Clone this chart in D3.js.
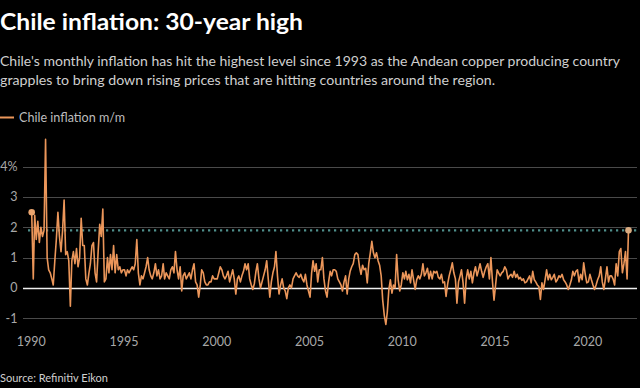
<!DOCTYPE html>
<html>
<head>
<meta charset="utf-8">
<style>
body { margin: 0; background: #000; }
svg { display: block; font-family: "Source Sans Pro", Lato, "Noto Sans", sans-serif; }
.grid line { stroke: #4a4a4a; stroke-width: 1; shape-rendering: crispEdges; }
.tick-label { fill: #a8a8a8; font-size: 12.5px; }
</style>
</head>
<body>
<script src="https://d3js.org/d3.v7.min.js"></script>
<script>

// monthly CPI change in %, Jan 1990 .. Mar 2022
var startYear = 1990;
var inflation = [
  2.5, 0.3, 2.4, 1.6, 2.2, 1.5, 2.0, 1.7, 1.9, 4.9, 1.0, 0.6,      // 1990
  0.5, 0.3, 0.1, 0.9, 1.6, 2.5, 1.7, 1.2, 1.9, 2.9, 1.1, 1.2,      // 1991
  0.9, -0.6, 0.9, 1.2, 0.8, 1.3, 0.7, 1.0, 2.3, 1.4, 1.4, 0.3,     // 1992
  0.1, 0.5, 0.8, 1.4, 1.5, 0.5, 0.2, 1.2, 2.1, 1.7, 2.6, 0.2,      // 1993
  0.3, 1.0, 0.5, 1.1, 0.6, 1.4, 0.5, 1.1, 0.6, 0.7, 0.5, 0.6,      // 1994
  0.6, 0.4, 0.6, 0.5, 0.6, 0.7, 0.6, 0.8, 1.6, 0.5, 0.1, 0.4,      // 1995
  0.3, 0.5, 0.7, 1.0, 0.6, 0.4, 0.3, 0.5, 0.8, 0.4, 0.6, 0.3,      // 1996
  0.4, 0.8, 0.3, 0.5, 0.4, 0.3, 0.6, 0.7, 0.5, 1.2, 0.6, 0.3,      // 1997
  0.7, -0.1, 0.4, 0.5, 0.3, 0.4, 0.5, 0.3, 0.6, 0.8, 0.2, 0.1,     // 1998
  -0.3, 0.1, 0.6, 0.5, 0.2, 0.1, 0.1, 0.2, 0.2, 0.4, 0.3, 0.3,     // 1999
  0.3, 0.5, 0.7, 0.6, 0.4, 0.3, 0.4, 0.55, 0.2, 0.4, 0.6, 0.3,     // 2000
  -0.2, 0.3, 0.4, 0.2, 0.4, 0.55, 0.8, 0.6, 0.8, 0.3, 0.1, -0.05,  // 2001
  0.15, 0.55, 0.8, 0.3, 0.0, 0.2, 0.4, 0.6, 0.9, 0.3, -0.3, 0.2,   // 2002
  0.5, 0.7, 1.2, 0.4, -0.2, 0.1, 0.3, 0.0, -0.1, -0.35, 0.0, 0.1,  // 2003
  0.0, 0.3, 0.4, 0.5, 0.4, 0.35, 0.45, 0.3, 0.2, 0.45, 0.1, -0.1,  // 2004
  -0.3, 0.5, 0.9, 0.55, 0.8, 0.2, 0.6, 0.6, 1.0, 0.3, -0.1, -0.3,  // 2005
  0.2, 0.55, 0.4, 0.6, 0.6, 0.55, 0.3, 0.2, 0.1, -0.1, 0.2, 0.4,   // 2006
  -0.2, 0.3, 0.55, 0.7, 0.8, 1.1, 1.16, 1.1, 0.7, 0.45, 0.75, 0.6, // 2007
  0.65, 0.17, 0.8, 1.16, 1.54, 1.16, 1.0, 1.16, 0.9, 0.75, 0.4, -0.4, // 2008
  -0.9, -1.2, -0.8, -0.05, 0.27, -0.17, 0.1, 0.0, 1.1, 0.27, -0.1, 0.1, // 2009
  0.5, 0.3, 0.55, 0.27, 0.45, 0.17, 0.6, 0.27, -0.05, 0.27, 0.4, 0.3,  // 2010
  0.45, 0.8, 0.4, 0.5, 0.65, 0.3, 0.55, 0.3, 0.55, 0.5, 0.55, 0.35,   // 2011
  0.3, 0.45, 0.17, 0.2, -0.28, 0.13, 0.4, 0.6, 0.83, 0.5, 0.3, -0.5,  // 2012
  0.2, 0.4, 0.6, 0.17, -0.5, 0.3, 0.6, 0.3, 0.55, 0.17, 0.5, 0.7,     // 2013
  0.4, 0.6, 0.8, 0.55, 0.35, 0.55, 0.7, 0.8, 0.3, 1.0, 0.2, -0.4,     // 2014
  0.1, 0.6, 0.5, 0.4, 0.5, 0.55, 0.7, 0.6, 0.3, 0.4, 0.45, 0.35,      // 2015
  0.55, 0.35, 0.45, 0.3, 0.35, 0.25, 0.3, 0.17, 0.2, 0.3, 0.4, 0.17,  // 2016
  0.55, 0.27, 0.2, 0.1, 0.05, -0.38, 0.17, -0.05, 0.27, 0.6, 0.27, 0.45, // 2017
  0.27, 0.35, 0.45, 0.2, 0.27, 0.4, 0.35, 0.45, 0.27, 0.2, 0.1, -0.05,   // 2018
  0.1, 0.27, 0.55, 0.4, 0.55, 0.6, 0.2, 0.45, 0.27, 0.83, 0.45, 0.17,    // 2019
  0.2, 0.45, 0.27, 0.1, -0.05, 0.1, 0.27, 0.4, 0.7, 0.2, -0.05, 0.3,     // 2020
  0.7, 0.2, 0.4, 0.4, 0.3, 0.1, 0.8, 0.4, 1.2, 1.3, 0.5, 0.8,            // 2021
  1.2, 0.3, 1.9                                                          // 2022
];
var xTickYears = [1990, 1995, 2000, 2005, 2010, 2015, 2020];
var yTicks = [-1, 0, 1, 2, 3, 4];
var yTickLabels = ["-1", "0", "1", "2", "3", "4%"];
var refLevel = 1.9;   // dotted line: latest reading

var title = "Chile inflation: 30-year high";
var subtitle = [
  "Chile's monthly inflation has hit the highest level since 1993 as the Andean copper producing country",
  "grapples to bring down rising prices that are hitting countries around the region."
];
var legendLabel = "Chile inflation m/m";
var source = "Source: Refinitiv Eikon";

var W = 640, H = 388;

var data = inflation.map(function(v, i) {
  return { date: new Date(startYear, i, 1), value: v };
});

var svg = d3.select("body").append("svg")
    .attr("width", W)
    .attr("height", H);

svg.append("rect").attr("width", W).attr("height", H).attr("fill", "#000");

// header
svg.append("text")
    .attr("x", 0).attr("y", 30)
    .attr("fill", "#fff")
    .style("font-size", "22px")
    .style("font-weight", "bold")
    .attr("textLength", 303).attr("lengthAdjust", "spacingAndGlyphs")
    .text(title);

// subtitle: font kept small enough that the natural width fits, then stretched
var subWidths = [620, 495];
subtitle.forEach(function(line, i) {
  svg.append("text")
      .attr("x", 0).attr("y", 66 + i * 19)
      .attr("fill", "#cfcfcf")
      .style("font-size", "14px")
      .attr("textLength", subWidths[i]).attr("lengthAdjust", "spacingAndGlyphs")
      .text(line);
});

// legend
svg.append("line")
    .attr("x1", 0).attr("x2", 14).attr("y1", 117.5).attr("y2", 117.5)
    .attr("stroke", "#eb965a").attr("stroke-width", 2);
svg.append("text")
    .attr("x", 19).attr("y", 121.5)
    .attr("fill", "#bdbdbd")
    .style("font-size", "13px")
    .attr("textLength", 106).attr("lengthAdjust", "spacingAndGlyphs")
    .text(legendLabel);

// scales
var x = d3.scaleTime()
    .domain([new Date(1990, 0, 1), new Date(2022, 2, 1)])
    .range([31.7, 628.5]);

var y = d3.scaleLinear()
    .domain([-1, 4])
    .range([318.3, 166.7]);

var gridLeft = 23, gridRight = 637;

// gridlines
svg.append("g").attr("class", "grid")
  .selectAll("line")
  .data(yTicks.filter(function(d) { return d !== 0; }))
  .enter().append("line")
    .attr("x1", gridLeft).attr("x2", gridRight)
    .attr("y1", function(d) { return Math.round(y(d)) + 0.5; })
    .attr("y2", function(d) { return Math.round(y(d)) + 0.5; });

// y labels
svg.append("g")
  .selectAll("text")
  .data(yTicks)
  .enter().append("text")
    .attr("class", "tick-label")
    .attr("x", 17.5)
    .attr("y", function(d) { return y(d); })
    .attr("dy", "0.35em")
    .attr("text-anchor", "end")
    .text(function(d, i) { return yTickLabels[i]; });

// x axis labels
var xAxis = d3.axisBottom(x)
    .tickValues(xTickYears.map(function(yr) { return new Date(yr, 0, 1); }))
    .tickSize(0)
    .tickPadding(0)
    .tickFormat(d3.timeFormat("%Y"));

var gx = svg.append("g")
    .attr("transform", "translate(-1,337)")
    .call(xAxis);
gx.select(".domain").remove();
gx.selectAll("text")
    .attr("class", "tick-label")
    .attr("fill", "#a8a8a8");
gx.attr("font-size", null).attr("font-family", null);

// zero line
svg.append("line")
    .attr("x1", gridLeft).attr("x2", gridRight)
    .attr("y1", Math.round(y(0)) + 0.5).attr("y2", Math.round(y(0)) + 0.5)
    .attr("stroke", "#f0f0f0").attr("stroke-width", 1.3);

// dotted reference line at latest level
svg.append("line")
    .attr("x1", gridLeft + 5).attr("x2", W)
    .attr("y1", y(refLevel)).attr("y2", y(refLevel))
    .attr("stroke", "#4f8f8c")
    .attr("stroke-width", 2.2)
    .attr("stroke-dasharray", "2.2,3.8");

// series line
var line = d3.line()
    .x(function(d) { return x(d.date); })
    .y(function(d) { return y(d.value); });

svg.append("path")
    .datum(data)
    .attr("fill", "none")
    .attr("stroke", "#eb965a")
    .attr("stroke-width", 1.6)
    .attr("stroke-linejoin", "round")
    .attr("d", line);

// first and last point markers
svg.selectAll("circle.end")
  .data([data[0], data[data.length - 1]])
  .enter().append("circle")
    .attr("class", "end")
    .attr("cx", function(d) { return x(d.date); })
    .attr("cy", function(d) { return y(d.value); })
    .attr("r", 3.3)
    .attr("fill", function(d, i) { return i === 0 ? "#e9a46e" : "#d9ab80"; });

// source
svg.append("text")
    .attr("x", 0).attr("y", 382)
    .attr("fill", "#d0d0d0")
    .style("font-size", "11.5px")
    .attr("textLength", 108).attr("lengthAdjust", "spacingAndGlyphs")
    .text(source);

</script>
</body>
</html>
